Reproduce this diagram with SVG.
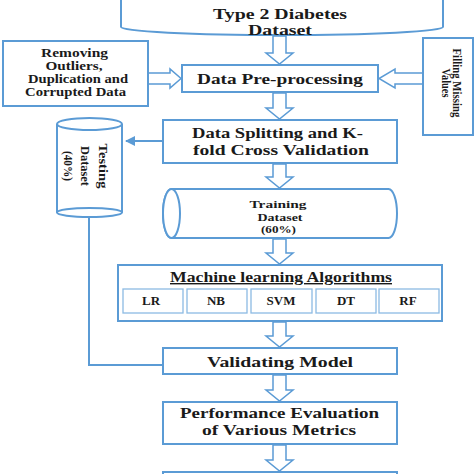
<svg xmlns="http://www.w3.org/2000/svg" width="474" height="474" viewBox="0 0 474 474">
<style>
.box{fill:#fff;stroke:#5b9bd5;stroke-width:2}
.sub{fill:#fff;stroke:#8dbbe3;stroke-width:1.3}
.arr{fill:#fff;stroke:#5b9bd5;stroke-width:1.5;stroke-linejoin:miter}
.ln{fill:none;stroke:#5b9bd5;stroke-width:2}
text{font-family:"Liberation Serif","DejaVu Serif",serif;font-weight:bold;fill:#1a1a1a;text-anchor:middle}
.t15{font-size:15px}
.t14{font-size:14px}
.t13{font-size:13px}
.t12{font-size:12px}
.t11{font-size:11px}
.t10{font-size:10px}
</style>
<defs>
<marker id="ah" viewBox="0 0 10 10" refX="9" refY="5" markerWidth="5" markerHeight="5" orient="auto">
<path d="M0,0 L10,5 L0,10 Z" fill="#5b9bd5"/>
</marker>
</defs>
<rect width="474" height="474" fill="#fff"/>

<g id="connectors">
<path class="arr" d="M273,36 H286 V53 H293 L279.5,64 L266,53 H273 Z"/>
<path class="arr" d="M148,73 V84 H170 V88 L181,78.5 L170,69 V73 Z"/>
<path class="arr" d="M423,73 V84 H395 V88 L379,78.5 L395,69 V73 Z"/>
<path class="arr" d="M273,93 H286 V108 H293 L279.5,119 L266,108 H273 Z"/>
<path class="ln" d="M163,141 H126" marker-end="url(#ah)"/>
<path class="arr" d="M273,164 H286 V177 H293 L279.5,188 L266,177 H273 Z"/>
<path class="arr" d="M273,239 H286 V253 H293 L279.5,264 L266,253 H273 Z"/>
<path class="arr" d="M273,322 H286 V336 H293 L279.5,347 L266,336 H273 Z"/>
<path class="ln" d="M89,217 V365 H163"/>
<path class="arr" d="M273,375 H286 V390 H293 L279.5,401 L266,390 H273 Z"/>
<path class="arr" d="M273,445 H286 V460 H293 L279.5,471 L266,460 H273 Z"/>
</g>

<g id="dataset">
<path class="box" d="M121,-4 V27 A161,8 0 0 0 443,27 V-4"/>
<text class="t14" x="280" y="18.5" textLength="134" lengthAdjust="spacingAndGlyphs">Type 2 Diabetes</text>
<text class="t14" x="280" y="34.5" textLength="64" lengthAdjust="spacingAndGlyphs">Dataset</text>
</g>

<g id="removing">
<rect class="box" x="3" y="41" width="145" height="65"/>
<text class="t12" x="74.5" y="57" textLength="67" lengthAdjust="spacingAndGlyphs">Removing</text>
<text class="t12" x="74" y="70" textLength="57" lengthAdjust="spacingAndGlyphs">Outliers,</text>
<text class="t12" x="78" y="83" textLength="100" lengthAdjust="spacingAndGlyphs">Duplication and</text>
<text class="t12" x="75.5" y="95.5" textLength="101" lengthAdjust="spacingAndGlyphs">Corrupted Data</text>
</g>

<g id="preprocessing">
<rect class="box" x="182" y="65" width="196" height="27"/>
<text class="t15" x="280" y="84" textLength="166" lengthAdjust="spacingAndGlyphs">Data Pre-processing</text>
</g>

<g id="filling">
<rect class="box" x="423" y="38" width="50" height="97"/>
<g transform="translate(448,83) rotate(90)">
<text class="t12" x="0" y="-5" textLength="69" lengthAdjust="spacingAndGlyphs">Filling Missing</text>
<text class="t12" x="0" y="6" textLength="29" lengthAdjust="spacingAndGlyphs">Values</text>
</g>
</g>

<g id="splitting">
<rect class="box" x="163" y="120" width="234" height="43"/>
<text class="t15" x="277.5" y="138" textLength="171" lengthAdjust="spacingAndGlyphs">Data Splitting and K-</text>
<text class="t15" x="281" y="155" textLength="176" lengthAdjust="spacingAndGlyphs">fold Cross Validation</text>
</g>

<g id="testing">
<path class="box" d="M57,124 V212.5 A32.5,4.5 0 0 0 122,212.5 V124"/>
<ellipse class="box" cx="89.5" cy="124" rx="32.5" ry="6"/>
<path class="ln" d="M57,212.5 A32.5,4.5 0 0 1 122,212.5" stroke-width="1.5"/>
<g transform="translate(80,166) rotate(90)">
<text class="t13" x="0" y="-19" textLength="45" lengthAdjust="spacingAndGlyphs">Testing</text>
<text class="t13" x="0" y="-1" textLength="40" lengthAdjust="spacingAndGlyphs">Dataset</text>
<text class="t13" x="0" y="16" textLength="30" lengthAdjust="spacingAndGlyphs">(40%)</text>
</g>
</g>

<g id="training">
<path class="box" d="M171.5,189 H388.5 A8.5,24.5 0 0 1 388.5,238 H171.5 A8.5,24.5 0 0 1 171.5,189 Z"/>
<ellipse class="box" cx="171.5" cy="213.5" rx="8.5" ry="24.5"/>
<text class="t11" x="278" y="207.5" textLength="57" lengthAdjust="spacingAndGlyphs">Training</text>
<text class="t11" x="280" y="220.5" textLength="45" lengthAdjust="spacingAndGlyphs">Dataset</text>
<text class="t10" x="278.5" y="233" textLength="35" lengthAdjust="spacingAndGlyphs">(60%)</text>
</g>

<g id="ml">
<rect class="box" x="118" y="265" width="324" height="56"/>
<text class="t14" x="281" y="282" textLength="222" lengthAdjust="spacingAndGlyphs" text-decoration="underline">Machine learning Algorithms</text>
<rect class="sub" x="123" y="289" width="60" height="24"/>
<rect class="sub" x="187" y="289" width="60" height="24"/>
<rect class="sub" x="251" y="289" width="61" height="24"/>
<rect class="sub" x="316" y="289" width="60" height="24"/>
<rect class="sub" x="379" y="289" width="60" height="24"/>
<text class="t13" x="151" y="305">LR</text>
<text class="t13" x="216" y="305">NB</text>
<text class="t13" x="281" y="305">SVM</text>
<text class="t13" x="346" y="305">DT</text>
<text class="t13" x="408" y="305">RF</text>
</g>

<g id="validating">
<rect class="box" x="163" y="348" width="234" height="26"/>
<text class="t15" x="280" y="366.5" textLength="146" lengthAdjust="spacingAndGlyphs">Validating Model</text>
</g>

<g id="performance">
<rect class="box" x="163" y="402" width="234" height="42"/>
<text class="t15" x="279.5" y="418" textLength="199" lengthAdjust="spacingAndGlyphs">Performance Evaluation</text>
<text class="t15" x="279" y="435" textLength="154" lengthAdjust="spacingAndGlyphs">of Various Metrics</text>
</g>

<g id="next">
<rect class="box" x="163" y="472" width="234" height="20"/>
</g>
</svg>
